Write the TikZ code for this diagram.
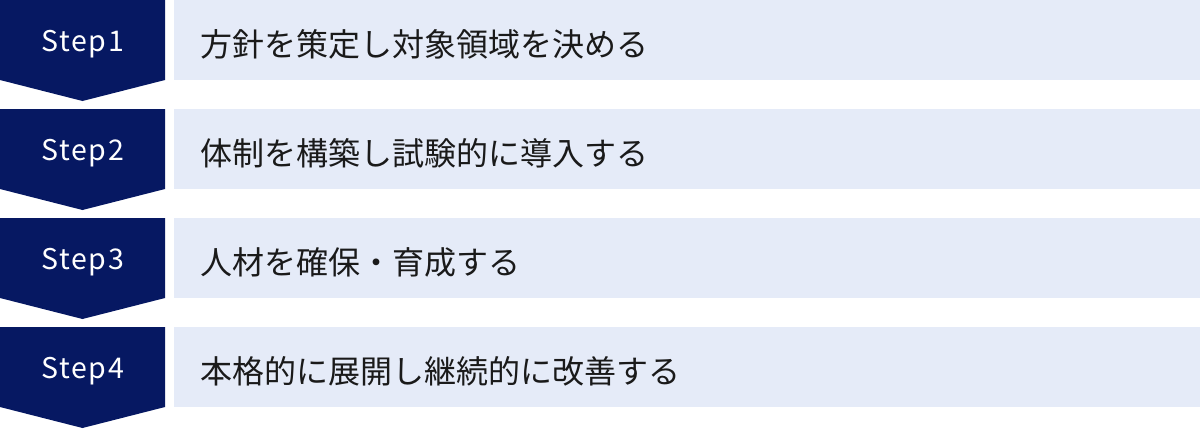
\documentclass[tikz,border=0pt]{standalone}
\usepackage{fontspec}
\setmainfont{Noto Sans CJK JP}
\newfontfamily\stepfont[LetterSpace=6]{Noto Sans CJK JP}
\definecolor{stepnavy}{RGB}{6,24,98}
\definecolor{taskpale}{RGB}{229,235,248}
\definecolor{taskink}{RGB}{26,26,26}

\begin{document}
\begin{tikzpicture}[x=1pt, y=-1pt, every node/.style={inner sep=0pt}]
  \tikzset{
    steplabel/.style={text=white, font=\stepfont\fontsize{28.5}{28.5}\selectfont},
    tasklabel/.style={text=taskink, anchor=west, font=\fontsize{32}{32}\selectfont}
  }
  \useasboundingbox (0,0) rectangle (1200,429);

  % one row per step
  \foreach \i/\txt in {1/方針を策定し対象領域を決める,
                       2/体制を構築し試験的に導入する,
                       3/人材を確保・育成する,
                       4/本格的に展開し継続的に改善する} {
    \pgfmathsetmacro{\y}{109*(\i-1)}
    % chevron
    \fill[stepnavy] (0,\y) -- (165,\y) -- (165,\y+80) -- (82.5,\y+101) -- (0,\y+80) -- cycle;
    % task box
    \fill[taskpale] (174,\y) rectangle (1200,\y+80);
    \node[steplabel] (step\i) at (82.5,\y+44) {Step\i};
    \node[tasklabel] (task\i) at (200,\y+44) {\txt};
  }
\end{tikzpicture}
\end{document}
